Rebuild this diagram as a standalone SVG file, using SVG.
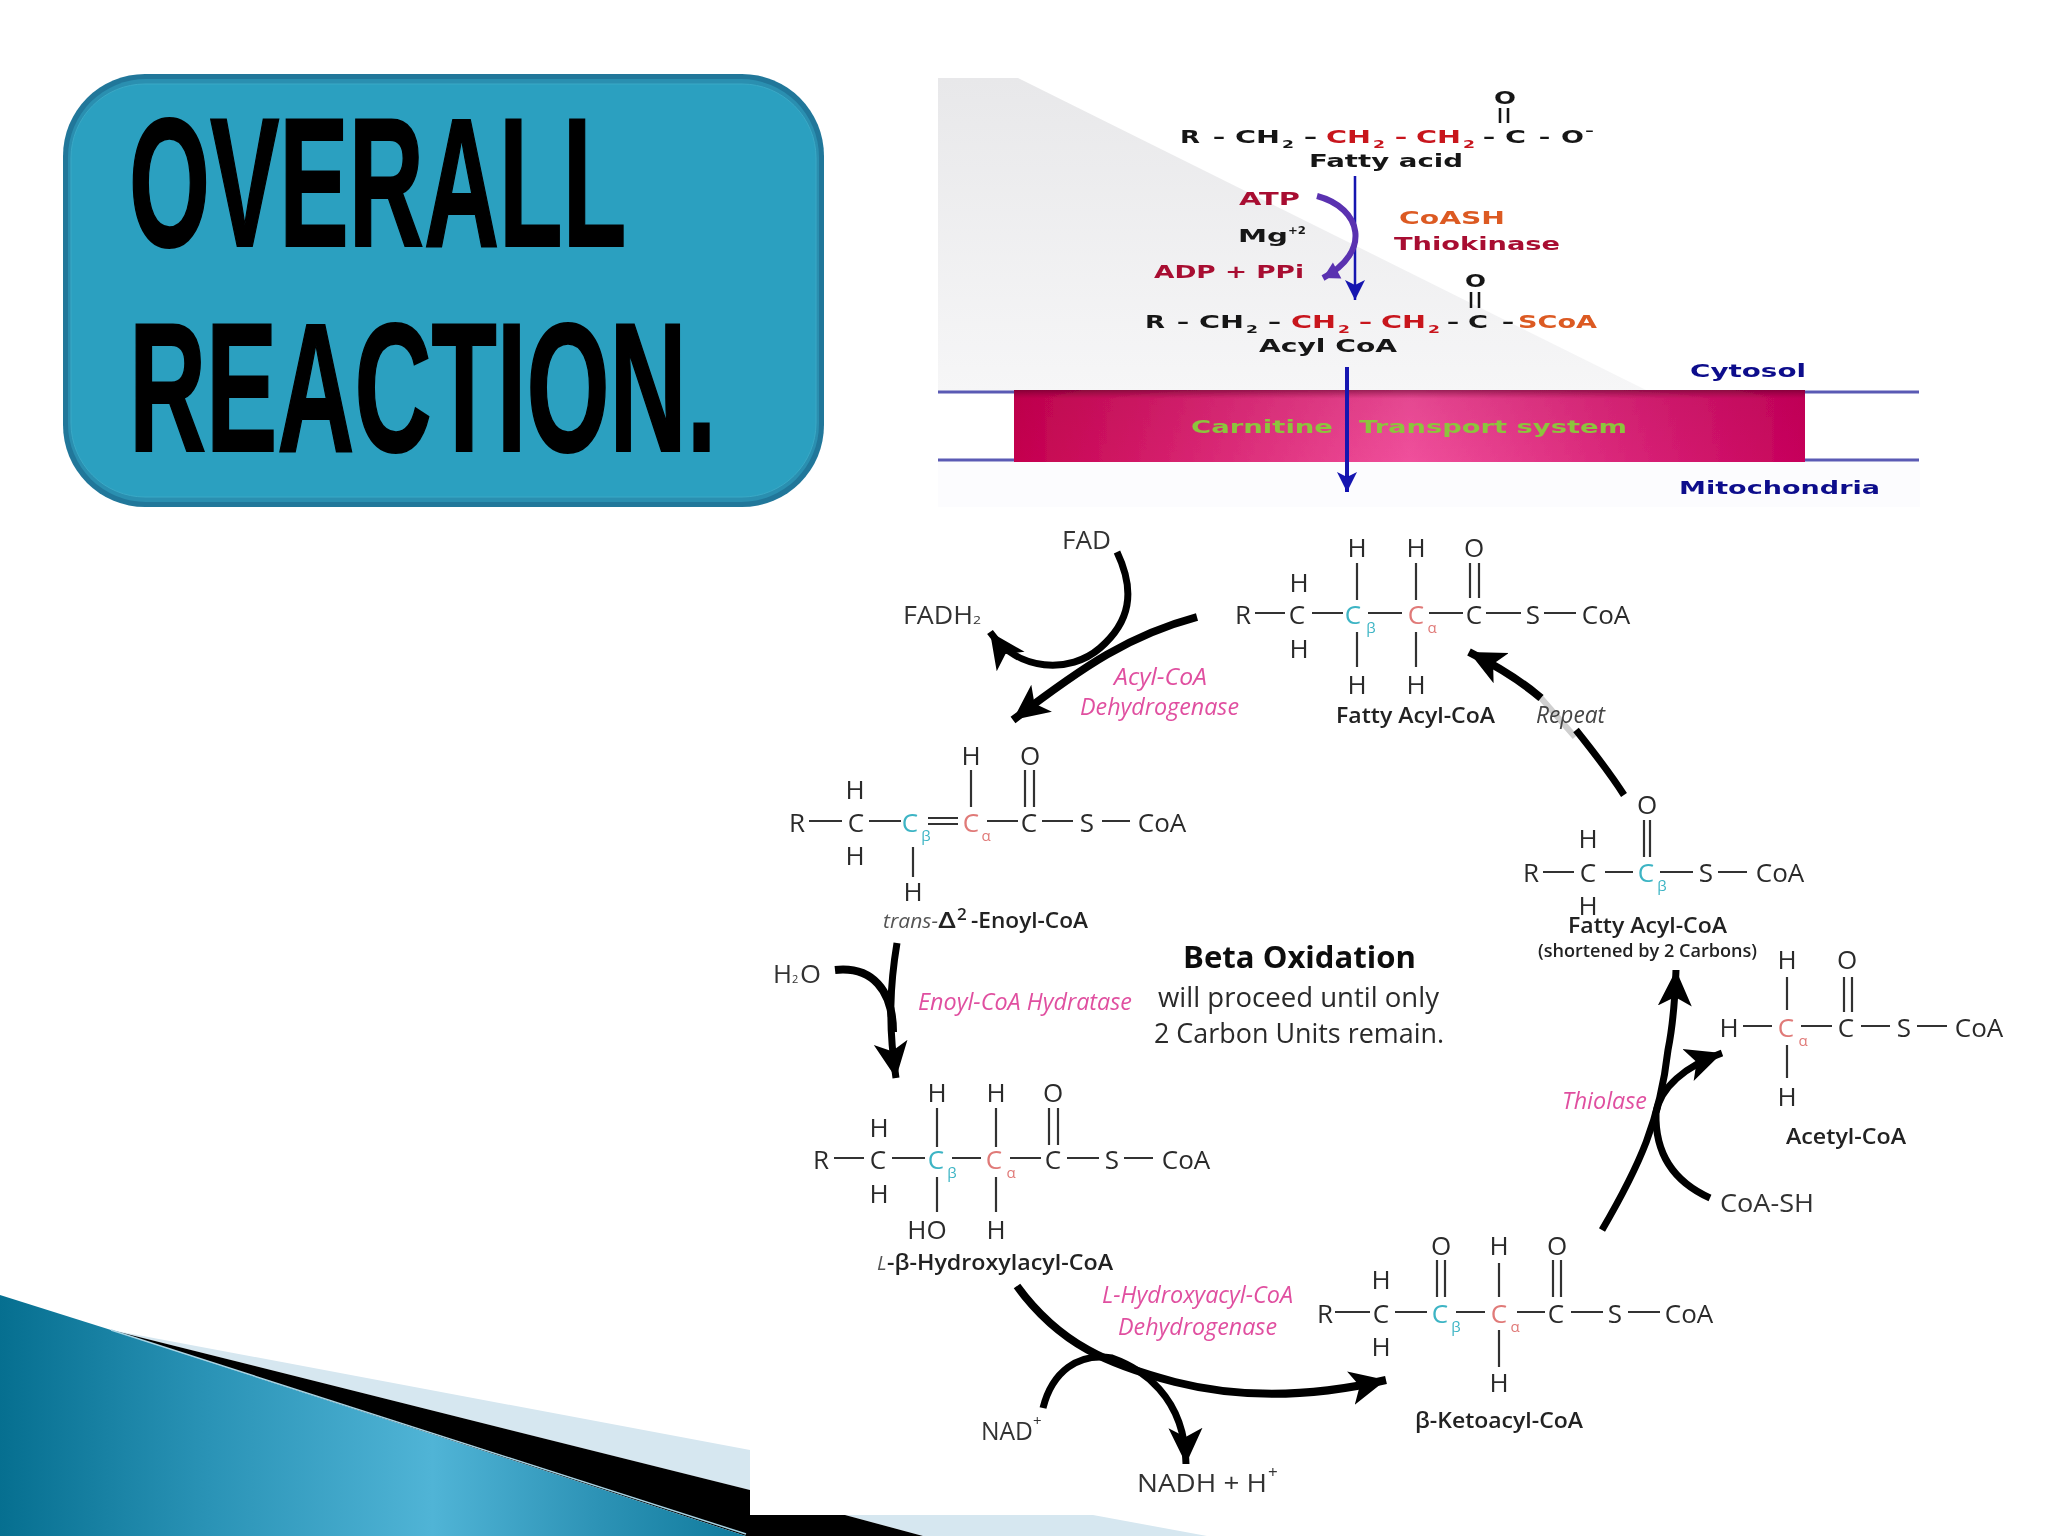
<svg xmlns="http://www.w3.org/2000/svg" width="2048" height="1536" viewBox="0 0 2048 1536">
<style>
text{font-family:"Open Sans","Liberation Sans",sans-serif}
.t{font-family:"Liberation Sans",sans-serif;font-weight:700;font-size:184px;fill:#000;stroke:#000;stroke-width:2px}
.k,.r,.o,.b,.d,.g{font-family:"DejaVu Sans","Liberation Sans",sans-serif;font-weight:700;font-size:18px}
.k{fill:#151515}.r{fill:#c8141e}.o{fill:#dc5a24}.b{fill:#10108c}.d{fill:#a81030}.g{fill:#8cc43c}
.z{font-size:11px}
.m{font-size:26px;fill:#2c2c2c;text-anchor:middle}
.cb{font-size:26px;fill:#3cb4c4;text-anchor:middle}
.ca{font-size:26px;fill:#e07a78;text-anchor:middle}
.sb{font-size:15px;fill:#3cb4c4;text-anchor:middle}
.sa{font-size:15px;fill:#e07a78;text-anchor:middle}
.n{font-size:22px;font-weight:600;fill:#222}
.p{font-size:23px;font-style:italic;fill:#e050a0}
.i{font-size:23px;font-style:italic;fill:#444}
.c{font-size:26px;fill:#333}
.h{font-size:31px;font-weight:700;fill:#111}
.l{font-size:28px;fill:#2a2a2a}
.bd{stroke:#333;stroke-width:2.2;fill:none}
.ar{stroke:#000;fill:none;stroke-linecap:butt}
</style>
<defs>
<marker id="ah" markerUnits="userSpaceOnUse" markerWidth="44" markerHeight="44" refX="36" refY="20" orient="auto"><path d="M0,3 L36,20 L0,37 L9,20 Z" fill="#000"/></marker>
<marker id="bh" markerUnits="userSpaceOnUse" markerWidth="26" markerHeight="26" refX="22" refY="13" orient="auto"><path d="M2,3 L22,13 L2,23 L7,13 Z" fill="#1212b0"/></marker>
<marker id="ph" markerUnits="userSpaceOnUse" markerWidth="24" markerHeight="24" refX="18" refY="12" orient="auto"><path d="M2,3 L18,12 L2,21 Z" fill="#5a30b0"/></marker>
<linearGradient id="grey" x1="0" y1="0" x2="0" y2="1"><stop offset="0" stop-color="#e8e8ea"/><stop offset="1" stop-color="#f6f6f7"/></linearGradient>
<linearGradient id="pk" x1="0" y1="0" x2="1" y2="0"><stop offset="0" stop-color="#c4004e"/><stop offset=".5" stop-color="#f0509c"/><stop offset="1" stop-color="#c6005a"/></linearGradient>
<linearGradient id="pv" x1="0" y1="0" x2="0" y2="1"><stop offset="0" stop-color="#500020" stop-opacity=".55"/><stop offset=".12" stop-color="#800030" stop-opacity=".1"/><stop offset="1" stop-color="#800030" stop-opacity="0"/></linearGradient>
<linearGradient id="teal" x1="0" y1="0" x2="1" y2="0"><stop offset="0" stop-color="#066f90"/><stop offset=".28" stop-color="#2a93b6"/><stop offset=".58" stop-color="#50b4d6"/><stop offset=".8" stop-color="#2d93b6"/><stop offset="1" stop-color="#0f7a9c"/></linearGradient>
<filter id="soft" x="-2%" y="-2%" width="104%" height="104%"><feGaussianBlur stdDeviation="0.7"/></filter>
<filter id="soft2" x="-2%" y="-2%" width="104%" height="104%"><feGaussianBlur stdDeviation="0.5"/></filter>
</defs>
<rect width="2048" height="1536" fill="#fff"/>

<g id="corner">
<polygon points="111,1330 750,1450 750,1490" fill="#d6e7f0"/>
<polygon points="845,1515 1093,1515 1207,1536 923,1536" fill="#d6e7f0"/>
<polygon points="111,1330 750,1490 750,1515 845,1515 923,1536 746,1536" fill="#000"/>
<polygon points="0,1295 111,1330 746,1536 0,1536" fill="url(#teal)"/>
<path d="M111 1330 L746 1534" stroke="#a8d4e4" stroke-width="1.5" fill="none"/>
</g>

<g id="title">
<rect x="63" y="74" width="761" height="433" rx="82" fill="#21779a"/>
<rect x="68" y="79" width="751" height="423" rx="78" fill="#2a8fb0"/>
<rect x="71" y="84" width="745" height="413" rx="74" fill="#2ba0c0" stroke="#3aa9c6" stroke-width="1"/>
<text class="t" transform="translate(129,246) scale(.565,1)" textLength="880" lengthAdjust="spacingAndGlyphs">OVERALL</text>
<text class="t" transform="translate(129,451) scale(.635,1)" textLength="925" lengthAdjust="spacingAndGlyphs">REACTION.</text>
</g>

<g id="panel" filter="url(#soft)">
<polygon points="938,78 1018,78 1650,392 938,392" fill="url(#grey)"/>
<rect x="938" y="462" width="982" height="45" fill="#fcfcfe"/>
<path d="M938 392H1919M938 460H1919" stroke="#5a5ab4" stroke-width="3" fill="none"/>
<rect x="1014" y="390" width="791" height="72" fill="url(#pk)"/>
<rect x="1014" y="390" width="791" height="72" fill="url(#pv)"/>
<text class="g" x="1191" y="433" textLength="142" lengthAdjust="spacingAndGlyphs">Carnitine</text>
<text class="g" x="1359" y="433" textLength="268" lengthAdjust="spacingAndGlyphs">Transport system</text>
<text class="b" x="1690" y="377" textLength="116" lengthAdjust="spacingAndGlyphs">Cytosol</text>
<text class="b" x="1679" y="494" textLength="201" lengthAdjust="spacingAndGlyphs">Mitochondria</text>

<g id="fatty-acid">
<text class="k" x="1180" y="143" textLength="20" lengthAdjust="spacingAndGlyphs">R</text>
<text class="k" x="1213" y="143" textLength="12" lengthAdjust="spacingAndGlyphs">–</text>
<text class="k" x="1235" y="143" textLength="45" lengthAdjust="spacingAndGlyphs">CH</text><text class="k z" x="1282" y="148" textLength="12" lengthAdjust="spacingAndGlyphs">2</text>
<text class="k" x="1304" y="143" textLength="13" lengthAdjust="spacingAndGlyphs">–</text>
<text class="r" x="1326" y="143" textLength="45" lengthAdjust="spacingAndGlyphs">CH</text><text class="r z" x="1373" y="148" textLength="12" lengthAdjust="spacingAndGlyphs">2</text>
<text class="r" x="1395" y="143" textLength="12" lengthAdjust="spacingAndGlyphs">–</text>
<text class="r" x="1416" y="143" textLength="45" lengthAdjust="spacingAndGlyphs">CH</text><text class="r z" x="1463" y="148" textLength="12" lengthAdjust="spacingAndGlyphs">2</text>
<text class="k" x="1483" y="143" textLength="12" lengthAdjust="spacingAndGlyphs">–</text>
<text class="k" x="1505" y="143" textLength="21" lengthAdjust="spacingAndGlyphs">C</text>
<text class="k" x="1539" y="143" textLength="11" lengthAdjust="spacingAndGlyphs">–</text>
<text class="k" x="1561" y="143" textLength="23" lengthAdjust="spacingAndGlyphs">O</text><text class="k z" x="1585" y="134" textLength="9" lengthAdjust="spacingAndGlyphs">-</text>
<text class="k" x="1494" y="104" textLength="22" lengthAdjust="spacingAndGlyphs">O</text>
<path d="M1500 108V123M1508 108V123" stroke="#151515" stroke-width="2.5" fill="none"/>
<text class="k" x="1309" y="167" textLength="154" lengthAdjust="spacingAndGlyphs">Fatty acid</text>
</g>

<g id="enzyme-labels">
<text class="d" x="1239" y="205" textLength="61" lengthAdjust="spacingAndGlyphs">ATP</text>
<text class="k" x="1238" y="242" textLength="50" lengthAdjust="spacingAndGlyphs">Mg</text><text class="k z" x="1288" y="234" textLength="18" lengthAdjust="spacingAndGlyphs">+2</text>
<text class="d" x="1154" y="278" textLength="150" lengthAdjust="spacingAndGlyphs">ADP + PPi</text>
<text class="o" x="1399" y="224" textLength="106" lengthAdjust="spacingAndGlyphs">CoASH</text>
<text class="d" x="1394" y="250" textLength="166" lengthAdjust="spacingAndGlyphs">Thiokinase</text>
</g>

<g id="acyl-coa">
<text class="k" x="1145" y="328" textLength="20" lengthAdjust="spacingAndGlyphs">R</text>
<text class="k" x="1177" y="328" textLength="12" lengthAdjust="spacingAndGlyphs">–</text>
<text class="k" x="1199" y="328" textLength="45" lengthAdjust="spacingAndGlyphs">CH</text><text class="k z" x="1246" y="333" textLength="12" lengthAdjust="spacingAndGlyphs">2</text>
<text class="k" x="1268" y="328" textLength="13" lengthAdjust="spacingAndGlyphs">–</text>
<text class="r" x="1291" y="328" textLength="45" lengthAdjust="spacingAndGlyphs">CH</text><text class="r z" x="1338" y="333" textLength="12" lengthAdjust="spacingAndGlyphs">2</text>
<text class="r" x="1359" y="328" textLength="13" lengthAdjust="spacingAndGlyphs">–</text>
<text class="r" x="1381" y="328" textLength="45" lengthAdjust="spacingAndGlyphs">CH</text><text class="r z" x="1428" y="333" textLength="12" lengthAdjust="spacingAndGlyphs">2</text>
<text class="k" x="1447" y="328" textLength="12" lengthAdjust="spacingAndGlyphs">–</text>
<text class="k" x="1468" y="328" textLength="20" lengthAdjust="spacingAndGlyphs">C</text>
<text class="k" x="1502" y="328" textLength="12" lengthAdjust="spacingAndGlyphs">–</text>
<text class="o" x="1518" y="328" textLength="79" lengthAdjust="spacingAndGlyphs">SCoA</text>
<text class="k" x="1465" y="287" textLength="21" lengthAdjust="spacingAndGlyphs">O</text>
<path d="M1471 292V308M1479 292V308" stroke="#151515" stroke-width="2.5" fill="none"/>
<text class="k" x="1259" y="352" textLength="138" lengthAdjust="spacingAndGlyphs">Acyl CoA</text>
</g>

<g id="panel-connectors">
<path d="M1355 176V300" stroke="#1212b0" stroke-width="2.5" fill="none" marker-end="url(#bh)"/>
<path d="M1317 196C1362 208 1372 252 1323 278" stroke="#5a30b0" stroke-width="6" fill="none" marker-end="url(#ph)"/>
<path d="M1347 367V492" stroke="#1212b0" stroke-width="4" fill="none" marker-end="url(#bh)"/>
</g>
</g>

<g id="connectors" filter="url(#soft2)">
<path class="ar" d="M1117 552C1136 592 1130 622 1100 648C1070 674 1018 672 990 632" marker-end="url(#ah)" style="stroke-width:7"/>
<path class="ar" d="M1197 617C1130 635 1085 665 1013 720" marker-end="url(#ah)" style="stroke-width:8"/>
<path d="M1541 698L1575 737" stroke="#cfcfcf" stroke-width="6" fill="none"/>
<path class="ar" d="M1624 795C1608 770 1592 750 1576 730" style="stroke-width:7"/>
<path class="ar" d="M1541 698C1520 680 1495 665 1469 652" marker-end="url(#ah)" style="stroke-width:8"/>
<path class="ar" d="M835 970C872 966 893 990 893 1032" style="stroke-width:8"/>
<path class="ar" d="M897 943C890 985 888 1025 896 1078" marker-end="url(#ah)" style="stroke-width:7"/>
<path class="ar" d="M1017 1286C1060 1345 1110 1365 1175 1382C1230 1396 1300 1400 1386 1380" marker-end="url(#ah)" style="stroke-width:8"/>
<path class="ar" d="M1043 1408C1052 1372 1078 1352 1112 1358C1140 1368 1185 1395 1186 1464" marker-end="url(#ah)" style="stroke-width:7"/>
<path class="ar" d="M1602 1230C1640 1165 1660 1120 1668 1050C1672 1030 1675 1000 1676 970" marker-end="url(#ah)" style="stroke-width:7"/>
<path class="ar" d="M1710 1198C1670 1180 1655 1150 1656 1113C1660 1088 1685 1066 1722 1053" marker-end="url(#ah)" style="stroke-width:7"/>
</g>

<g filter="url(#soft2)">
<g id="cofactors">
<text class="c" x="1062" y="549" textLength="49" lengthAdjust="spacingAndGlyphs">FAD</text>
<text class="c" x="903" y="624" textLength="70" lengthAdjust="spacingAndGlyphs">FADH</text><text class="c" x="973" y="624" style="font-size:11px" textLength="8" lengthAdjust="spacingAndGlyphs">2</text>
<text class="c" x="773" y="983" textLength="19" lengthAdjust="spacingAndGlyphs">H</text><text class="c" x="792" y="983" style="font-size:11px">2</text><text class="c" x="800" y="983" textLength="21" lengthAdjust="spacingAndGlyphs">O</text>
<text class="c" x="981" y="1440" textLength="52" lengthAdjust="spacingAndGlyphs">NAD</text><text class="c" x="1033" y="1426" style="font-size:15px">+</text>
<text class="c" x="1137" y="1492" textLength="130" lengthAdjust="spacingAndGlyphs">NADH + H</text><text class="c" x="1268" y="1478" style="font-size:17px">+</text>
<text class="c" x="1720" y="1212" textLength="94" lengthAdjust="spacingAndGlyphs">CoA-SH</text>
</g>
<g id="enzymes">
<text class="p" x="1114" y="685" textLength="93" lengthAdjust="spacingAndGlyphs">Acyl-CoA</text>
<text class="p" x="1080" y="715" textLength="159" lengthAdjust="spacingAndGlyphs">Dehydrogenase</text>
<text class="p" x="918" y="1010" textLength="214" lengthAdjust="spacingAndGlyphs">Enoyl-CoA Hydratase</text>
<text class="p" x="1102" y="1303" textLength="191" lengthAdjust="spacingAndGlyphs">L-Hydroxyacyl-CoA</text>
<text class="p" x="1118" y="1335" textLength="159" lengthAdjust="spacingAndGlyphs">Dehydrogenase</text>
<text class="p" x="1562" y="1109" textLength="85" lengthAdjust="spacingAndGlyphs">Thiolase</text>
<text class="i" x="1536" y="723" textLength="69" lengthAdjust="spacingAndGlyphs">Repeat</text>
</g>
<g id="caption">
<text class="h" x="1183" y="968" textLength="233" lengthAdjust="spacingAndGlyphs">Beta Oxidation</text>
<text class="l" x="1158" y="1007" textLength="281" lengthAdjust="spacingAndGlyphs">will proceed until only</text>
<text class="l" x="1154" y="1043" textLength="290" lengthAdjust="spacingAndGlyphs">2 Carbon Units remain.</text>
</g>

<g id="fatty-acyl-coa">
<path class="bd" d="M1255 613H1285M1312 613H1343M1368 613H1402M1429 613H1463M1486 613H1521M1544 613H1576M1357 563V600M1357 632V667M1416 563V600M1416 632V667M1470 563V598M1479 563V598"/>
<text class="m" x="1243" y="624">R</text><text class="m" x="1297" y="624">C</text>
<text class="cb" x="1353" y="624">C</text><text class="sb" x="1371" y="633">β</text>
<text class="ca" x="1416" y="624">C</text><text class="sa" x="1432" y="633">α</text>
<text class="m" x="1474" y="624">C</text><text class="m" x="1533" y="624">S</text><text class="m" x="1606" y="624">CoA</text>
<text class="m" x="1299" y="592">H</text><text class="m" x="1299" y="658">H</text>
<text class="m" x="1357" y="557">H</text><text class="m" x="1416" y="557">H</text><text class="m" x="1474" y="557">O</text>
<text class="m" x="1357" y="694">H</text><text class="m" x="1416" y="694">H</text>
<text class="n" x="1336" y="723" textLength="159" lengthAdjust="spacingAndGlyphs">Fatty Acyl-CoA</text>
</g>

<g id="enoyl-coa">
<path class="bd" d="M809 821H842M869 821H901M928 818H958M928 824H958M987 821H1018M1042 821H1073M1102 821H1130M971 770V807M1025 770V807M1034 770V807M913 847V877"/>
<text class="m" x="797" y="832">R</text><text class="m" x="856" y="832">C</text>
<text class="cb" x="910" y="832">C</text><text class="sb" x="926" y="841">β</text>
<text class="ca" x="971" y="832">C</text><text class="sa" x="986" y="841">α</text>
<text class="m" x="1029" y="832">C</text><text class="m" x="1087" y="832">S</text><text class="m" x="1162" y="832">CoA</text>
<text class="m" x="855" y="799">H</text><text class="m" x="855" y="865">H</text>
<text class="m" x="971" y="765">H</text><text class="m" x="1030" y="765">O</text><text class="m" x="913" y="901">H</text>
<text x="883" y="928" style="font-size:20px;font-style:italic;fill:#555" textLength="55" lengthAdjust="spacingAndGlyphs">trans-</text>
<text class="n" x="938" y="928" textLength="18" lengthAdjust="spacingAndGlyphs">Δ</text><text class="n" x="957" y="920" style="font-size:17px">2</text>
<text class="n" x="971" y="928" textLength="117" lengthAdjust="spacingAndGlyphs">-Enoyl-CoA</text>
</g>

<g id="hydroxyacyl-coa">
<path class="bd" d="M834 1158H864M892 1158H925M952 1158H981M1010 1158H1041M1067 1158H1099M1124 1158H1153M937 1108V1147M996 1108V1147M1049 1108V1145M1058 1108V1145M937 1177V1212M996 1177V1212"/>
<text class="m" x="821" y="1169">R</text><text class="m" x="878" y="1169">C</text>
<text class="cb" x="936" y="1169">C</text><text class="sb" x="952" y="1178">β</text>
<text class="ca" x="994" y="1169">C</text><text class="sa" x="1011" y="1178">α</text>
<text class="m" x="1053" y="1169">C</text><text class="m" x="1112" y="1169">S</text><text class="m" x="1186" y="1169">CoA</text>
<text class="m" x="879" y="1137">H</text><text class="m" x="879" y="1203">H</text>
<text class="m" x="937" y="1102">H</text><text class="m" x="996" y="1102">H</text><text class="m" x="1053" y="1102">O</text>
<text class="m" x="927" y="1239">HO</text><text class="m" x="996" y="1239">H</text>
<text x="877" y="1270" style="font-size:20px;font-style:italic;fill:#555">L</text>
<text class="n" x="887" y="1270" textLength="226" lengthAdjust="spacingAndGlyphs">-β-Hydroxylacyl-CoA</text>
</g>

<g id="ketoacyl-coa">
<path class="bd" d="M1335 1312H1370M1395 1312H1427M1456 1312H1485M1517 1312H1545M1571 1312H1603M1628 1312H1660M1437 1260V1297M1445 1260V1297M1499 1263V1297M1553 1260V1297M1561 1260V1297M1499 1330V1367"/>
<text class="m" x="1325" y="1323">R</text><text class="m" x="1381" y="1323">C</text>
<text class="cb" x="1440" y="1323">C</text><text class="sb" x="1456" y="1332">β</text>
<text class="ca" x="1499" y="1323">C</text><text class="sa" x="1515" y="1332">α</text>
<text class="m" x="1556" y="1323">C</text><text class="m" x="1615" y="1323">S</text><text class="m" x="1689" y="1323">CoA</text>
<text class="m" x="1381" y="1289">H</text><text class="m" x="1381" y="1356">H</text>
<text class="m" x="1441" y="1255">O</text><text class="m" x="1499" y="1255">H</text><text class="m" x="1557" y="1255">O</text>
<text class="m" x="1499" y="1392">H</text>
<text class="n" x="1415" y="1428" textLength="168" lengthAdjust="spacingAndGlyphs">β-Ketoacyl-CoA</text>
</g>

<g id="shortened-acyl-coa">
<path class="bd" d="M1543 872H1574M1605 872H1633M1660 872H1693M1718 872H1747M1644 820V857M1650 820V857"/>
<text class="m" x="1531" y="882">R</text><text class="m" x="1588" y="882">C</text>
<text class="cb" x="1646" y="882">C</text><text class="sb" x="1662" y="891">β</text>
<text class="m" x="1706" y="882">S</text><text class="m" x="1780" y="882">CoA</text>
<text class="m" x="1588" y="848">H</text><text class="m" x="1588" y="915">H</text><text class="m" x="1647" y="814">O</text>
<text class="n" x="1568" y="933" textLength="159" lengthAdjust="spacingAndGlyphs">Fatty Acyl-CoA</text>
<text class="n" x="1538" y="957" style="font-size:18px" textLength="219" lengthAdjust="spacingAndGlyphs">(shortened by 2 Carbons)</text>
</g>

<g id="acetyl-coa">
<path class="bd" d="M1743 1026H1772M1801 1026H1832M1861 1026H1890M1917 1026H1947M1787 977V1010M1844 977V1012M1852 977V1012M1787 1045V1078"/>
<text class="m" x="1729" y="1037">H</text>
<text class="ca" x="1786" y="1037">C</text><text class="sa" x="1803" y="1046">α</text>
<text class="m" x="1846" y="1037">C</text><text class="m" x="1904" y="1037">S</text><text class="m" x="1979" y="1037">CoA</text>
<text class="m" x="1787" y="969">H</text><text class="m" x="1847" y="969">O</text><text class="m" x="1787" y="1106">H</text>
<text class="n" x="1786" y="1144" textLength="120" lengthAdjust="spacingAndGlyphs">Acetyl-CoA</text>
</g>
</g>
</svg>
